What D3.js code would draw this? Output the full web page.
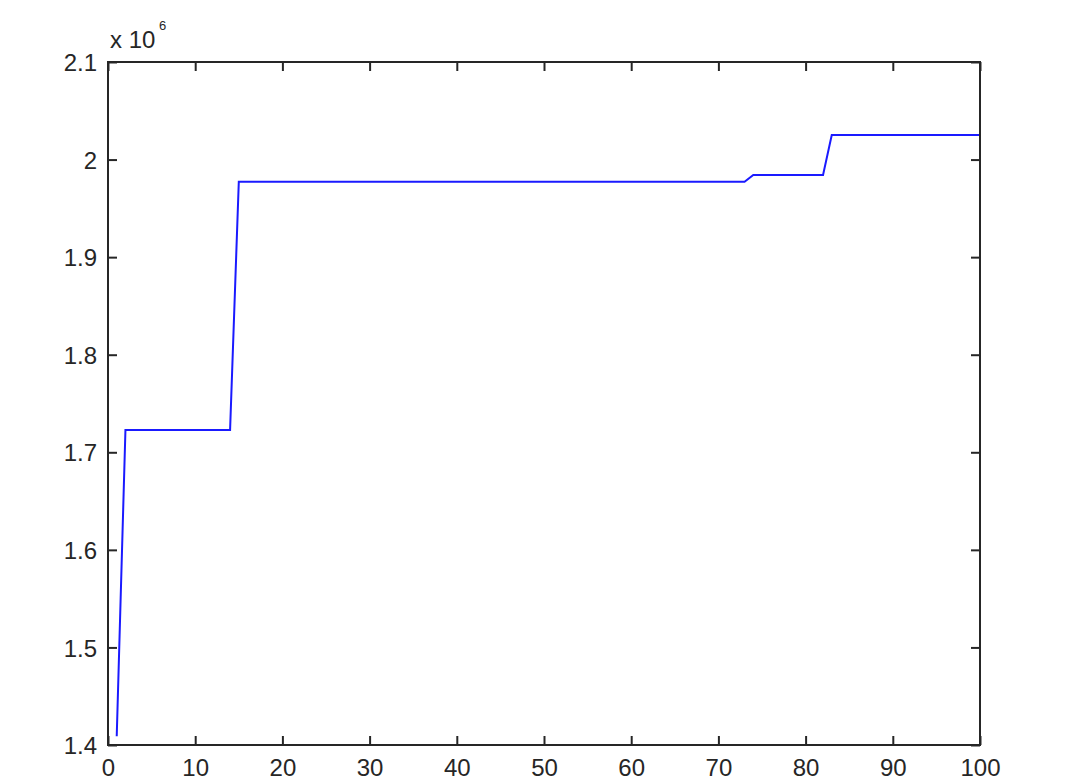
<!DOCTYPE html>
<html>
<head>
<meta charset="utf-8">
<script src="https://cdn.jsdelivr.net/npm/d3@7"></script>
<style>
  html, body { margin: 0; padding: 0; background: #fff; }
  svg { display: block; }
  text { font-family: "Liberation Sans", Arial, sans-serif; fill: #262626; }
</style>
</head>
<body>
<svg id="chart" width="1082" height="784"></svg>
<script>
// ---- data (values in units of 10^6) ----
const xValues = [1, 2, 14, 15, 73, 74, 82, 83, 100];
const yValues = [1.409, 1.7228, 1.7228, 1.9773, 1.9773, 1.9842, 1.9842, 2.0252, 2.0252];
const xTicks = [0, 10, 20, 30, 40, 50, 60, 70, 80, 90, 100];
const yTicks = [1.4, 1.5, 1.6, 1.7, 1.8, 1.9, 2, 2.1];
const yTickLabels = ["1.4", "1.5", "1.6", "1.7", "1.8", "1.9", "2", "2.1"];
const exponentLabel = "x 10";
const exponentPower = "6";

const points = xValues.map((x, i) => ({ x, y: yValues[i] }));

const svg = d3.select("#chart");
const margin = { left: 108, top: 62, right: 1082 - 980, bottom: 784 - 745 };
const W = 1082 - margin.left - margin.right;
const H = 784 - margin.top - margin.bottom;

svg.append("rect").attr("width", 1082).attr("height", 784).attr("fill", "#fff");

const x = d3.scaleLinear().domain([0, 100]).range([0, W]);
const y = d3.scaleLinear().domain([1.4, 2.1]).range([H, 0]);

const g = svg.append("g").attr("transform", `translate(${margin.left},${margin.top})`);

// data line
g.append("path")
  .datum(points)
  .attr("fill", "none")
  .attr("stroke", "#1a1aff")
  .attr("stroke-width", 2)
  .attr("d", d3.line().x(d => x(d.x)).y(d => y(d.y)));

const tickLen = 9;
function styleAxis(sel, showLabels) {
  sel.select(".domain").remove();
  sel.selectAll(".tick line").attr("stroke", "#262626").attr("stroke-width", 2);
  sel.selectAll(".tick text")
    .style("font-size", "24px")
    .attr("fill", "#262626");
  if (!showLabels) sel.selectAll(".tick text").remove();
}

// bottom axis
const xb = g.append("g").attr("transform", `translate(0,${H})`)
  .call(d3.axisBottom(x).tickValues(xTicks).tickFormat(d3.format("d")).tickSizeInner(-tickLen).tickSizeOuter(0).tickPadding(0));
styleAxis(xb, true);
xb.selectAll(".tick text").attr("y", 31).attr("dy", null);

// top axis
const xt = g.append("g")
  .call(d3.axisTop(x).tickValues(xTicks).tickSizeInner(-tickLen).tickSizeOuter(0));
styleAxis(xt, false);

// left axis
const yl = g.append("g")
  .call(d3.axisLeft(y).tickValues(yTicks).tickFormat((d, i) => yTickLabels[i]).tickSizeInner(-tickLen).tickSizeOuter(0).tickPadding(0));
styleAxis(yl, true);
yl.selectAll(".tick text").attr("x", -11).attr("dy", "0.36em");

// right axis
const yr = g.append("g").attr("transform", `translate(${W},0)`)
  .call(d3.axisRight(y).tickValues(yTicks).tickSizeInner(-tickLen).tickSizeOuter(0));
styleAxis(yr, false);

// box
g.append("rect")
  .attr("x", 0).attr("y", 0).attr("width", W).attr("height", H)
  .attr("fill", "none").attr("stroke", "#262626").attr("stroke-width", 2);

// exponent label
svg.append("text").attr("x", 110).attr("y", 48).style("font-size", "24px").text(exponentLabel);
svg.append("text").attr("x", 159).attr("y", 30).style("font-size", "13px").text(exponentPower);
</script>
</body>
</html>
